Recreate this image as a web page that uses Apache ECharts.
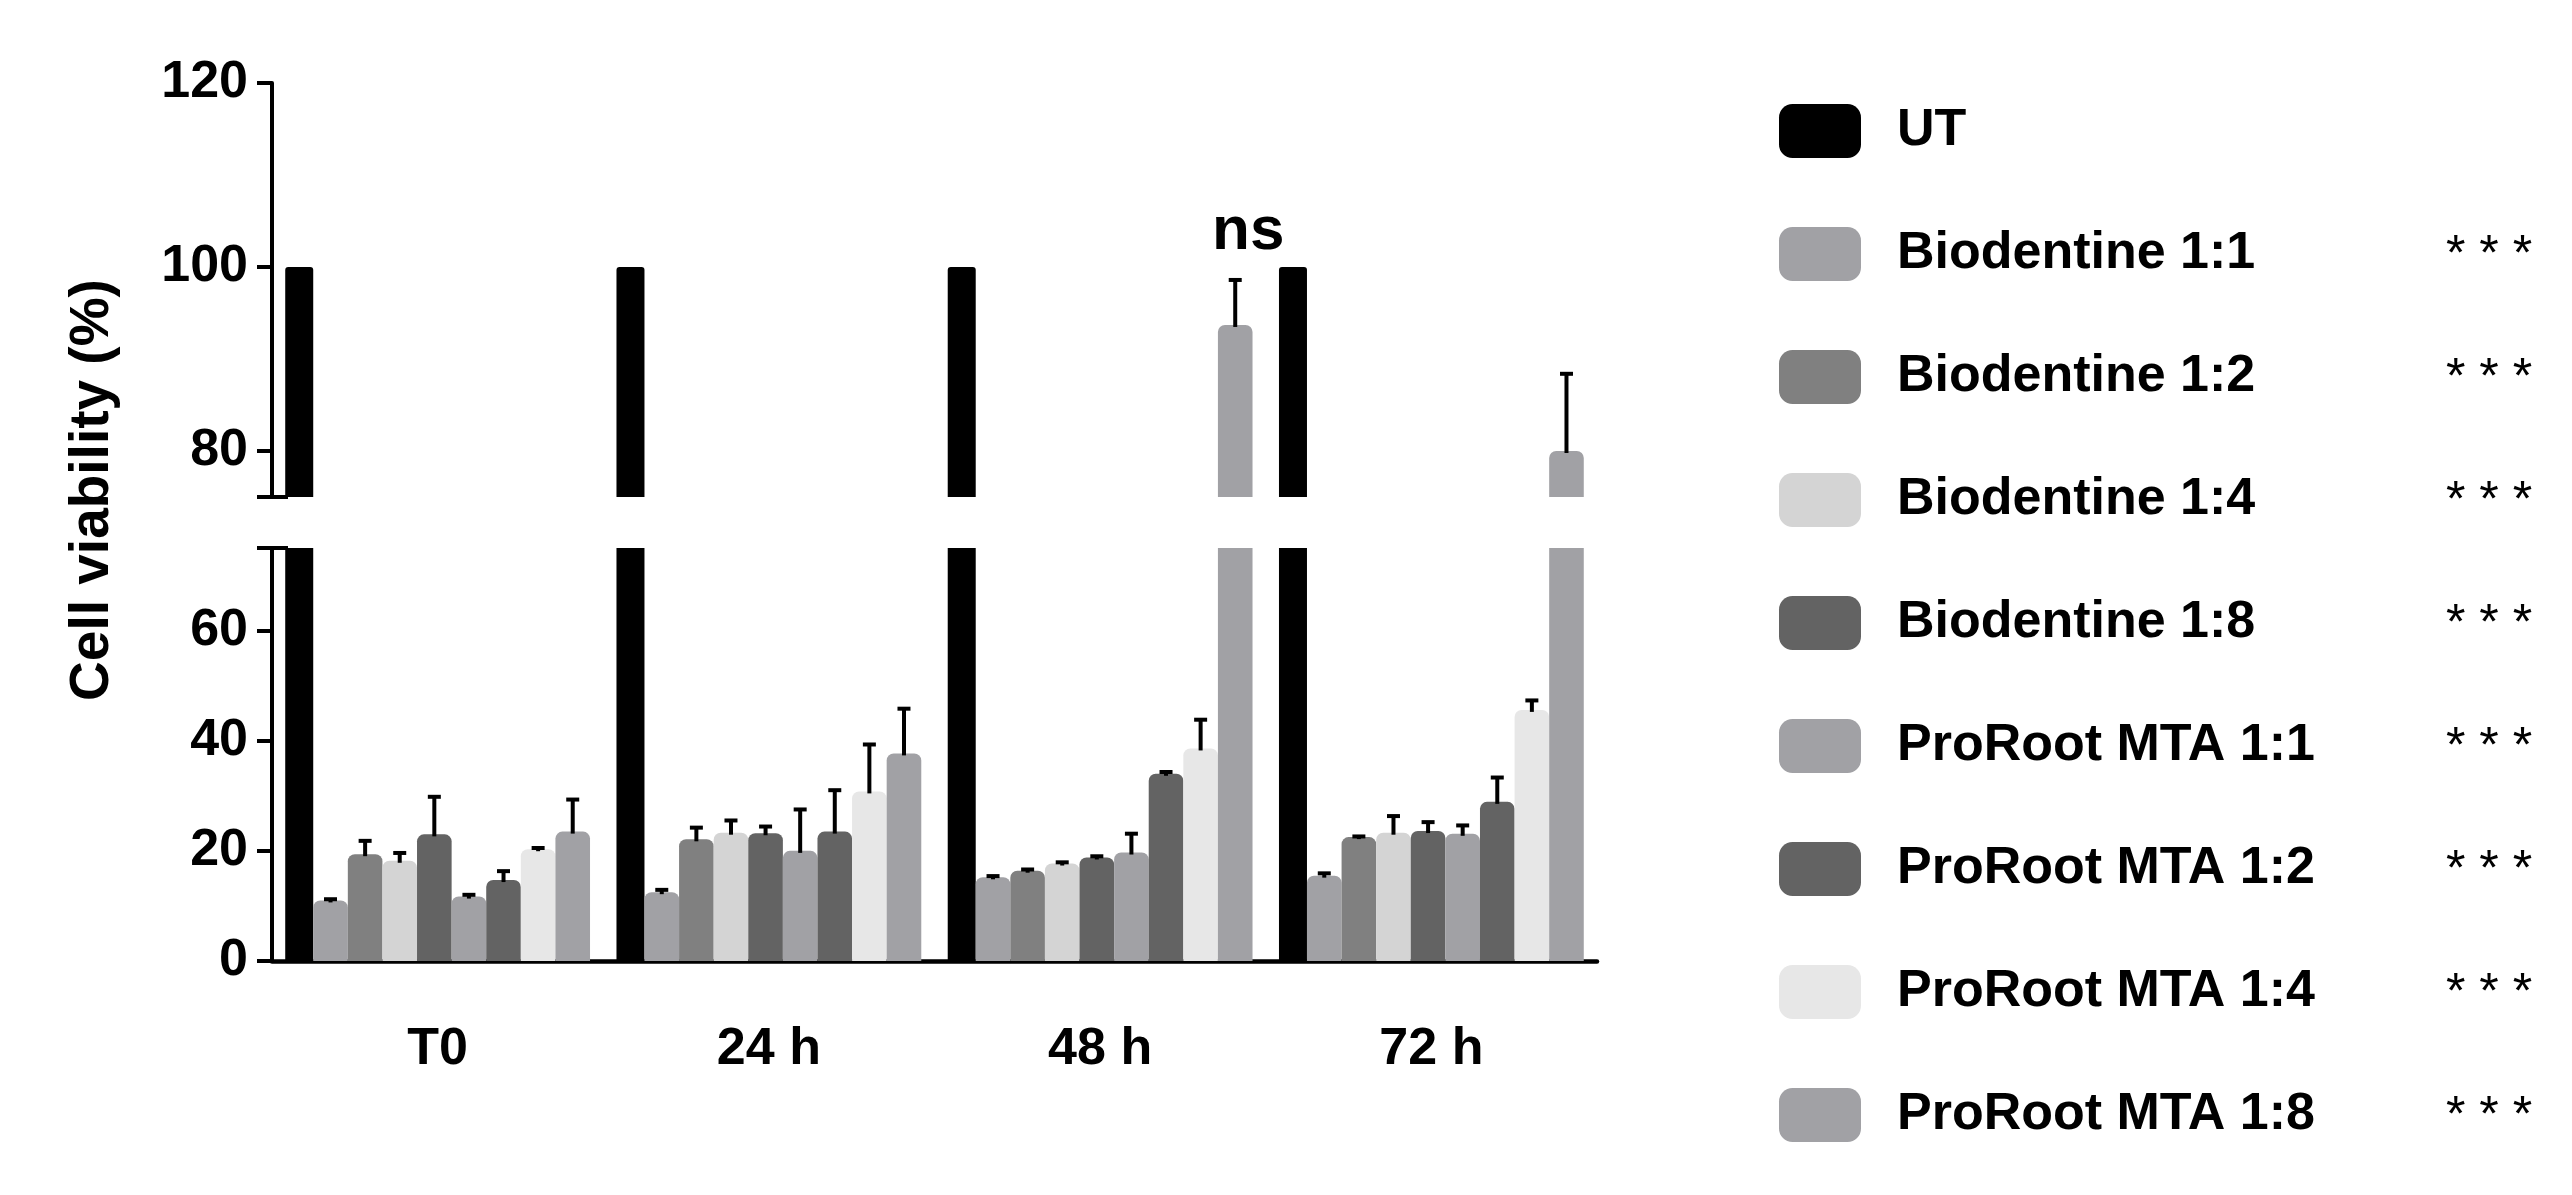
<!DOCTYPE html>
<html>
<head>
<meta charset="utf-8">
<script src="https://cdn.jsdelivr.net/npm/echarts@6/dist/echarts.min.js"></script>
<style>
  html, body { margin: 0; padding: 0; background: #fff; }
  #chart { width: 2572px; height: 1195px; }
</style>
</head>
<body>
<div id="chart"></div>
<script>
// ---- data ----
const categories = ['T0', '24 h', '48 h', '72 h'];

const utValues = [100, 100, 100, 100];

const bio11 = [11.0, 12.5, 15.2, 15.5];
const bio11Err = [0.4, 0.6, 0.4, 0.6];
const bio12 = [19.4, 22.1, 16.4, 22.5];
const bio12Err = [2.6, 2.3, 0.4, 0.3];
const bio14 = [18.2, 23.3, 17.7, 23.3];
const bio14Err = [1.6, 2.4, 0.4, 3.2];
const bio18 = [23.0, 23.2, 18.8, 23.6];
const bio18Err = [7.0, 1.4, 0.4, 1.8];

const mta11 = [11.7, 20.0, 19.7, 23.1];
const mta11Err = [0.5, 7.7, 3.6, 1.7];
const mta12 = [14.7, 23.5, 34.0, 28.9];
const mta12Err = [1.8, 7.7, 0.5, 4.6];
const mta14 = [20.3, 30.8, 38.6, 45.6];
const mta14Err = [0.4, 8.7, 5.4, 1.9];
const mta18 = [23.5, 37.7, 93.7, 80.0];
const mta18Err = [6.0, 8.3, 5.0, 8.5];
const mta18Sig = ['', '', 'ns', ''];

const lowerTicks = [0, 20, 40, 60];
const upperTicks = [80, 100, 120];
const breakValue = 75;
const legendStars = '* * *';

// ---- layout / styling ----
const GRID_LEFT = 272;
const GRID_WIDTH = 1325;
const FONT = '"Liberation Sans", Arial, Helvetica, sans-serif';

const groups = [
  { name: 'UT', values: utValues, errors: null, color: '#000000', width: 28, radius: 3 },
  { name: 'Biodentine 1:1', values: bio11, errors: bio11Err, color: '#a1a1a5', width: 34.6, radius: 7 },
  { name: 'Biodentine 1:2', values: bio12, errors: bio12Err, color: '#808080', width: 34.6, radius: 7 },
  { name: 'Biodentine 1:4', values: bio14, errors: bio14Err, color: '#d4d4d4', width: 34.6, radius: 7 },
  { name: 'Biodentine 1:8', values: bio18, errors: bio18Err, color: '#636363', width: 34.6, radius: 7 },
  { name: 'ProRoot MTA 1:1', values: mta11, errors: mta11Err, color: '#a1a1a5', width: 34.6, radius: 7 },
  { name: 'ProRoot MTA 1:2', values: mta12, errors: mta12Err, color: '#636363', width: 34.6, radius: 7 },
  { name: 'ProRoot MTA 1:4', values: mta14, errors: mta14Err, color: '#e7e7e7', width: 34.6, radius: 7 },
  { name: 'ProRoot MTA 1:8', values: mta18, errors: mta18Err, color: '#a1a1a5', width: 34.6, radius: 7, sig: mta18Sig }
];

// bar centre offsets inside a category (barGap 0, centred group, same as echarts layout)
const totalWidth = groups.reduce((s, g) => s + g.width, 0);
const offsets = [];
let acc = -totalWidth / 2;
groups.forEach((g) => { offsets.push(acc + g.width / 2); acc += g.width; });

const chart = echarts.init(document.getElementById('chart'));

const series = [];
groups.forEach((g, si) => {
  // upper panel (75 - 120)
  series.push({
    type: 'bar', name: g.name, xAxisIndex: 0, yAxisIndex: 0,
    barWidth: g.width, barGap: '0%', clip: true,
    itemStyle: { color: g.color, borderRadius: [g.radius, g.radius, 0, 0] },
    data: g.values.map((v, ci) => {
      if (v <= breakValue) return '-';
      const item = { value: v };
      if (g.sig && g.sig[ci]) {
        item.label = {
          show: true, position: 'top', distance: 62, offset: [13, 0], formatter: g.sig[ci],
          fontFamily: FONT, fontWeight: 'bold', fontSize: 62, color: '#000', lineHeight: 62
        };
      }
      return item;
    })
  });
  // lower panel (0 - 75)
  series.push({
    type: 'bar', name: g.name, xAxisIndex: 1, yAxisIndex: 1,
    barWidth: g.width, barGap: '0%', clip: true,
    itemStyle: { color: g.color, borderRadius: [g.radius, g.radius, 0, 0] },
    data: g.values.map((v) => ({
      value: v,
      itemStyle: { borderRadius: v > breakValue ? 0 : [g.radius, g.radius, 0, 0] }
    }))
  });
});

function errorSeries(gridIdx, keep) {
  const data = [];
  groups.forEach((g, si) => {
    if (!g.errors) return;
    g.values.forEach((v, ci) => {
      if (keep(v)) data.push([ci, v, v + g.errors[ci], si]);
    });
  });
  return {
    type: 'custom', name: 'err' + gridIdx, xAxisIndex: gridIdx, yAxisIndex: gridIdx, z: 5,
    encode: { x: 0, y: [1, 2] },
    data: data,
    renderItem: function (params, api) {
      const ci = api.value(0);
      const si = api.value(3);
      const base = api.coord([ci, api.value(1)]);
      const top = api.coord([ci, api.value(2)]);
      const x = base[0] + offsets[si];
      return {
        type: 'group',
        children: [
          { type: 'line', shape: { x1: x, y1: base[1] + 2, x2: x, y2: top[1] }, style: { stroke: '#000', lineWidth: 4 } },
          { type: 'line', shape: { x1: x - 6.5, y1: top[1] + 1, x2: x + 6.5, y2: top[1] + 1 }, style: { stroke: '#000', lineWidth: 4 } }
        ]
      };
    }
  };
}
series.push(errorSeries(0, (v) => v > breakValue));
series.push(errorSeries(1, (v) => v <= breakValue));

const axisLabelStyle = { fontFamily: FONT, fontWeight: 'bold', fontSize: 52, color: '#000' };

const option = {
  backgroundColor: '#fff',
  animation: false,
  grid: [
    { left: GRID_LEFT, width: GRID_WIDTH, top: 83, height: 414 },
    { left: GRID_LEFT, width: GRID_WIDTH, top: 548, height: 413 }
  ],
  xAxis: [
    { type: 'category', gridIndex: 0, data: categories, show: false },
    {
      type: 'category', gridIndex: 1, data: categories,
      axisLine: { lineStyle: { color: '#000', width: 4.5 } },
      axisTick: { alignWithLabel: true, length: 18, lineStyle: { color: '#000', width: 4 } },
      axisLabel: Object.assign({ margin: 63 }, axisLabelStyle)
    }
  ],
  yAxis: [
    {
      type: 'value', gridIndex: 0, min: breakValue, max: 120,
      axisLine: { show: true, lineStyle: { color: '#000', width: 4 } },
      axisTick: { show: true, length: 15, customValues: upperTicks, lineStyle: { color: '#000', width: 4 } },
      axisLabel: Object.assign({ margin: 24, customValues: upperTicks }, axisLabelStyle),
      splitLine: { show: false }
    },
    {
      type: 'value', gridIndex: 1, min: 0, max: breakValue,
      axisLine: { show: true, lineStyle: { color: '#000', width: 4 } },
      axisTick: { show: true, length: 15, customValues: lowerTicks, lineStyle: { color: '#000', width: 4 } },
      axisLabel: Object.assign({ margin: 24, customValues: lowerTicks }, axisLabelStyle),
      splitLine: { show: false }
    }
  ],
  legend: {
    data: groups.map((g) => g.name),
    orient: 'vertical',
    left: 1779, top: 104,
    padding: 0,
    itemWidth: 82, itemHeight: 54, itemGap: 69,
    icon: 'roundRect',
    selectedMode: false,
    formatter: function (name) {
      return name === 'UT' ? '{a|' + name + '}' : '{a|' + name + '}{b|' + legendStars + '}';
    },
    textStyle: {
      rich: {
        a: { fontFamily: FONT, fontWeight: 'bold', fontSize: 52, color: '#000', width: 549, padding: [0, 0, 0, 31], lineHeight: 54 },
        b: { fontFamily: FONT, fontSize: 50, color: '#000', lineHeight: 26, verticalAlign: 'bottom' }
      }
    }
  },
  series: series
};

chart.setOption(option);

// broken-axis marks and the rotated y title
const yUpper = chart.convertToPixel({ yAxisIndex: 0 }, breakValue);
const yLower = chart.convertToPixel({ yAxisIndex: 1 }, breakValue);
chart.setOption({
  graphic: [
    { type: 'line', shape: { x1: GRID_LEFT - 15, y1: yUpper, x2: GRID_LEFT + 16, y2: yUpper }, style: { stroke: '#000', lineWidth: 4 } },
    { type: 'line', shape: { x1: GRID_LEFT - 15, y1: yLower, x2: GRID_LEFT + 16, y2: yLower }, style: { stroke: '#000', lineWidth: 4 } },
    {
      type: 'text', x: 93, y: 490, rotation: Math.PI / 2,
      style: { text: 'Cell viability (%)', fontFamily: FONT, fontWeight: 'bold', fontSize: 55, fill: '#000', align: 'center', verticalAlign: 'middle' }
    }
  ]
});
</script>
</body>
</html>
